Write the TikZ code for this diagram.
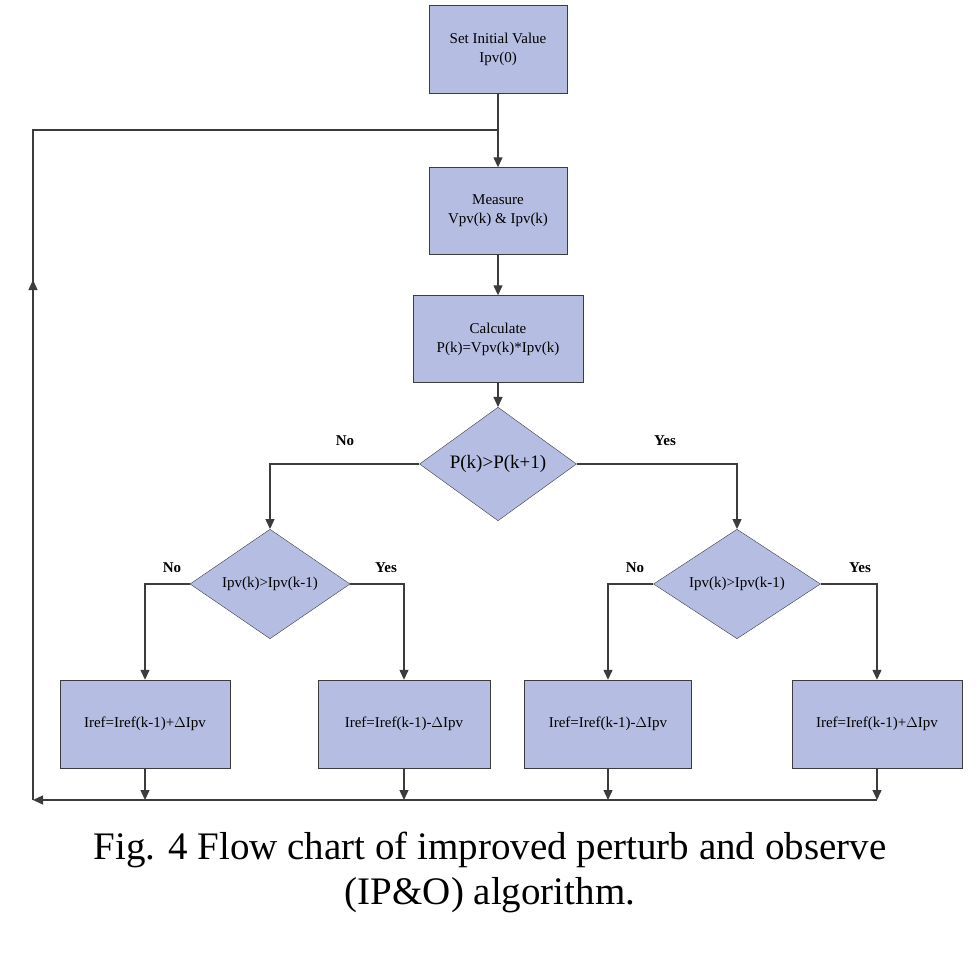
\documentclass[tikz,border=0pt]{standalone}
\usepackage{fontspec}
\setmainfont{Liberation Serif}
\usetikzlibrary{shapes.geometric,arrows.meta,decorations.markings}
\definecolor{fillc}{RGB}{181,190,226}
\definecolor{linec}{RGB}{60,60,60}
\begin{document}
\begin{tikzpicture}[x=1pt,y=-1pt,
  box/.style={draw=linec,fill=fillc,align=center,font=\fontsize{15}{19}\selectfont,inner sep=0pt},
  dia/.style={draw=linec,fill=fillc,diamond,inner sep=0pt,font=\fontsize{15}{17}\selectfont},
  lab/.style={font=\bfseries\fontsize{15}{17}\selectfont},
  arr/.style={draw=linec,line width=1.3pt,-{Triangle[length=10pt,width=9pt]}},
  ln/.style={draw=linec,line width=1.3pt}]
\useasboundingbox (0,0) rectangle (977,955);
\node[box,minimum width=138pt,minimum height=88pt] (b1) at (498,49) {Set Initial Value\\Ipv(0)};
\node[box,minimum width=138pt,minimum height=87pt] (b2) at (498,211) {Measure\\Vpv(k) \& Ipv(k)};
\node[box,minimum width=170pt,minimum height=87pt] (b3) at (498,339) {Calculate\\P(k)=Vpv(k)*Ipv(k)};
\node[dia,minimum width=157pt,minimum height=96pt,font=\fontsize{19}{22}\selectfont] (d1) at (498,464) {P(k)>P(k+1)};
\node[dia,minimum width=160pt,minimum height=85pt] (d2) at (270,584) {Ipv(k)>Ipv(k-1)};
\node[dia,minimum width=167pt,minimum height=85pt] (d3) at (737,584) {Ipv(k)>Ipv(k-1)};
\node[box,minimum width=170pt,minimum height=88pt] (r1) at (145,724) {Iref=Iref(k-1)+$\Delta$Ipv};
\node[box,minimum width=172pt,minimum height=88pt] (r2) at (404,724) {Iref=Iref(k-1)-$\Delta$Ipv};
\node[box,minimum width=167pt,minimum height=88pt] (r3) at (608,724) {Iref=Iref(k-1)-$\Delta$Ipv};
\node[box,minimum width=170pt,minimum height=88pt] (r4) at (877,724) {Iref=Iref(k-1)+$\Delta$Ipv};
\coordinate (j) at (498,130);
\coordinate (lt) at (33,130);
\coordinate (lb) at (33,800);
\coordinate (e) at (877,800);
\draw[ln] (b1) -- (j);
\draw[arr] (j) -- (b2);
\draw[arr] (b2) -- (b3);
\draw[arr] (b3) -- (d1);
\draw[arr] (d1.west) -| (d2.north);
\draw[arr] (d1.east) -| (d3.north);
\draw[arr] (d2.west) -| (r1.north);
\draw[arr] (d2.east) -| (r2.north);
\draw[arr] (d3.west) -| (r3.north);
\draw[arr] (d3.east) -| (r4.north);
\foreach \r in {r1,r2,r3,r4}{\draw[arr] (\r.south) -- (\r.south |- e);}
\draw[arr] (e) -- (lb);
\draw[ln] (lb) -- (lt) -- (j);
\draw[arr] (lb) -- (33,280);
\node[lab] (n1) at (345,441) {No};
\node[lab] (y1) at (665,441) {Yes};
\node[lab] (n2) at (172,568) {No};
\node[lab] (y2) at (386,568) {Yes};
\node[lab] (n3) at (635,568) {No};
\node[lab] (y3) at (860,568) {Yes};
\node[align=center,font=\fontsize{39}{45}\selectfont] (cap) at (490,872) {Fig. 4 Flow chart of improved perturb and observe\\(IP\&O) algorithm.};
\end{tikzpicture}
\end{document}
